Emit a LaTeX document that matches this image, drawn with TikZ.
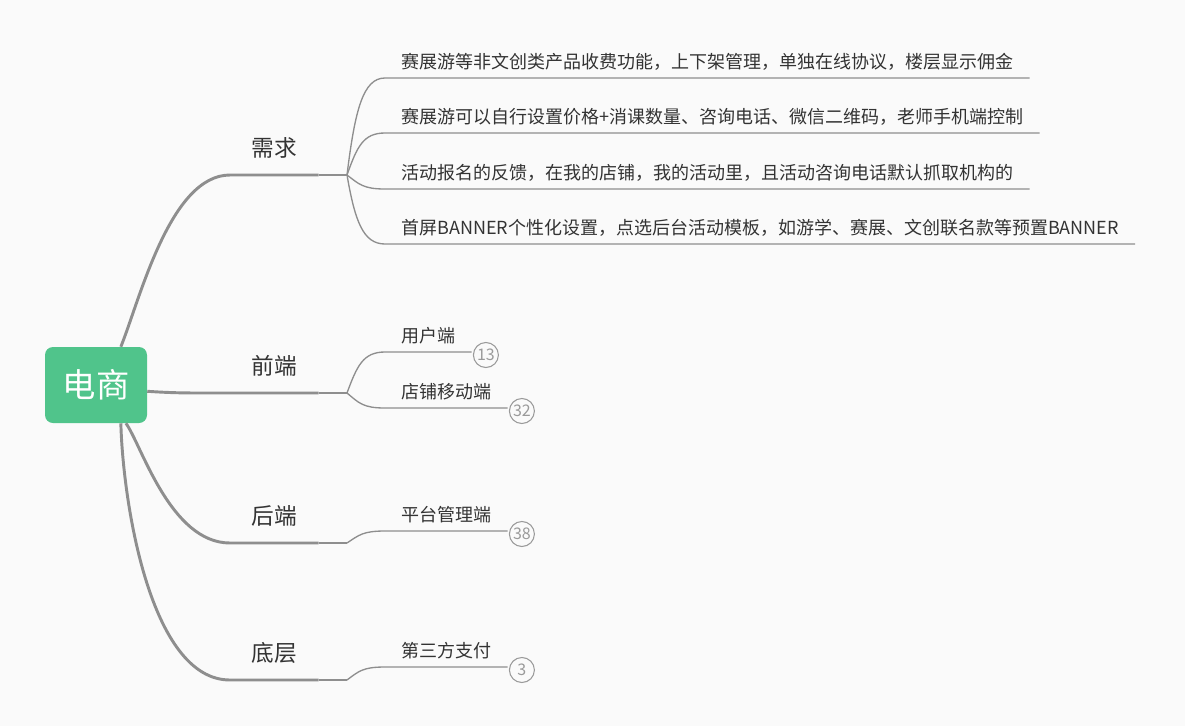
\documentclass[tikz,border=0pt]{standalone}
\usepackage{fontspec}
\setmainfont{Noto Sans CJK SC}
\usetikzlibrary{positioning}

\definecolor{shopgreen}{HTML}{50C48B}
\definecolor{edgegray}{HTML}{8E8E8E}
\definecolor{textgray}{HTML}{333333}
\definecolor{badgegray}{HTML}{9A9A9A}
\definecolor{paper}{HTML}{FAFAFA}

\begin{document}
\begin{tikzpicture}[
    x=0.75pt, y=-0.75pt, % one unit is one pixel of the layout, y runs down
    rootbox/.style={rectangle, rounded corners=6pt, fill=shopgreen, text=white,
        minimum width=76.5pt, minimum height=57pt, inner sep=0pt,
        font=\fontsize{25pt}{30pt}\selectfont},
    topic/.style={anchor=south west, minimum width=66pt, inner xsep=0pt,
        inner ysep=13.8pt, text depth=0pt, text=textgray,
        font=\fontsize{17pt}{20pt}\selectfont},
    leaf/.style={anchor=south west, inner xsep=12pt, inner ysep=6.9pt,
        text depth=0pt, text=textgray, font=\fontsize{13.5pt}{16pt}\selectfont},
    badge/.style={circle, draw=badgegray, line width=0.8pt, text=badgegray,
        minimum size=18.75pt, inner sep=0pt, font=\fontsize{12pt}{14pt}\selectfont},
    mainline/.style={draw=edgegray, line width=2.2pt},
    subline/.style={draw=edgegray, line width=1pt}
]

\fill[paper] (0,0) rectangle (1185,726);

\node[rootbox] (ec) at (96,385) {电商};

% first level
\node[topic] (req) at (230,175) {需求};
\node[topic] (fe) at (230,393) {前端};
\node[topic] (be) at (230,543) {后端};
\node[topic] (base) at (230,680) {底层};

\coordinate (reqF) at (347,175);
\coordinate (feF) at (347,393);
\coordinate (beF) at (347,543);
\coordinate (baseF) at (347,680);

\draw[mainline] (ec.57) .. controls +(19,-47) and +(-60,0) .. (req.south west) -- (req.south east);
\draw[mainline] (ec.-7) .. controls +(30,2) and +(-40,0) .. (fe.south west) -- (fe.south east);
\draw[mainline] (ec.-52) .. controls +(15,20) and +(-60,0) .. (be.south west) -- (be.south east);
\draw[mainline] (ec.-57) .. controls +(2,78) and +(-80,0) .. (base.south west) -- (base.south east);

\draw[subline] (req.south east) -- (reqF);
\draw[subline] (fe.south east) -- (feF);
\draw[subline] (be.south east) -- (beF);
\draw[subline] (base.south east) -- (baseF);

% needs
\node[leaf] (req1) at (385,78) {赛展游等非文创类产品收费功能，上下架管理，单独在线协议，楼层显示佣金};
\node[leaf] (req2) at (385,133) {赛展游可以自行设置价格+消课数量、咨询电话、微信二维码，老师手机端控制};
\node[leaf] (req3) at (385,189) {活动报名的反馈，在我的店铺，我的活动里，且活动咨询电话默认抓取机构的};
\node[leaf] (req4) at (385,244) {首屏BANNER个性化设置，点选后台活动模板，如游学、赛展、文创联名款等预置BANNER};

\draw[subline] (reqF) .. controls +(8,-65) and +(-22,0) .. (req1.south west) -- (req1.south east);
\draw[subline] (reqF) .. controls +(10,-28) and +(-22,0) .. (req2.south west) -- (req2.south east);
\draw[subline] (reqF) .. controls +(12,9) and +(-22,0) .. (req3.south west) -- (req3.south east);
\draw[subline] (reqF) .. controls +(8,46) and +(-22,0) .. (req4.south west) -- (req4.south east);

% front end
\node[leaf] (fe1) at (385,352) {用户端};
\node[leaf] (fe2) at (385,408) {店铺移动端};
\node[badge, right=1pt of fe1.south east, yshift=-2.25pt] (fe1n) {13};
\node[badge, right=1pt of fe2.south east, yshift=-2.25pt] (fe2n) {32};

\draw[subline] (feF) .. controls +(10,-27) and +(-22,0) .. (fe1.south west) -- (fe1.south east);
\draw[subline] (feF) .. controls +(12,10) and +(-22,0) .. (fe2.south west) -- (fe2.south east);

% back end
\node[leaf] (be1) at (385,531) {平台管理端};
\node[badge, right=1pt of be1.south east, yshift=-2.25pt] (be1n) {38};
\draw[subline] (beF) .. controls +(12,-8) and +(-22,0) .. (be1.south west) -- (be1.south east);

% base layer
\node[leaf] (base1) at (385,667) {第三方支付};
\node[badge, right=1pt of base1.south east, yshift=-2.25pt] (base1n) {3};
\draw[subline] (baseF) .. controls +(12,-9) and +(-22,0) .. (base1.south west) -- (base1.south east);

\end{tikzpicture}
\end{document}
